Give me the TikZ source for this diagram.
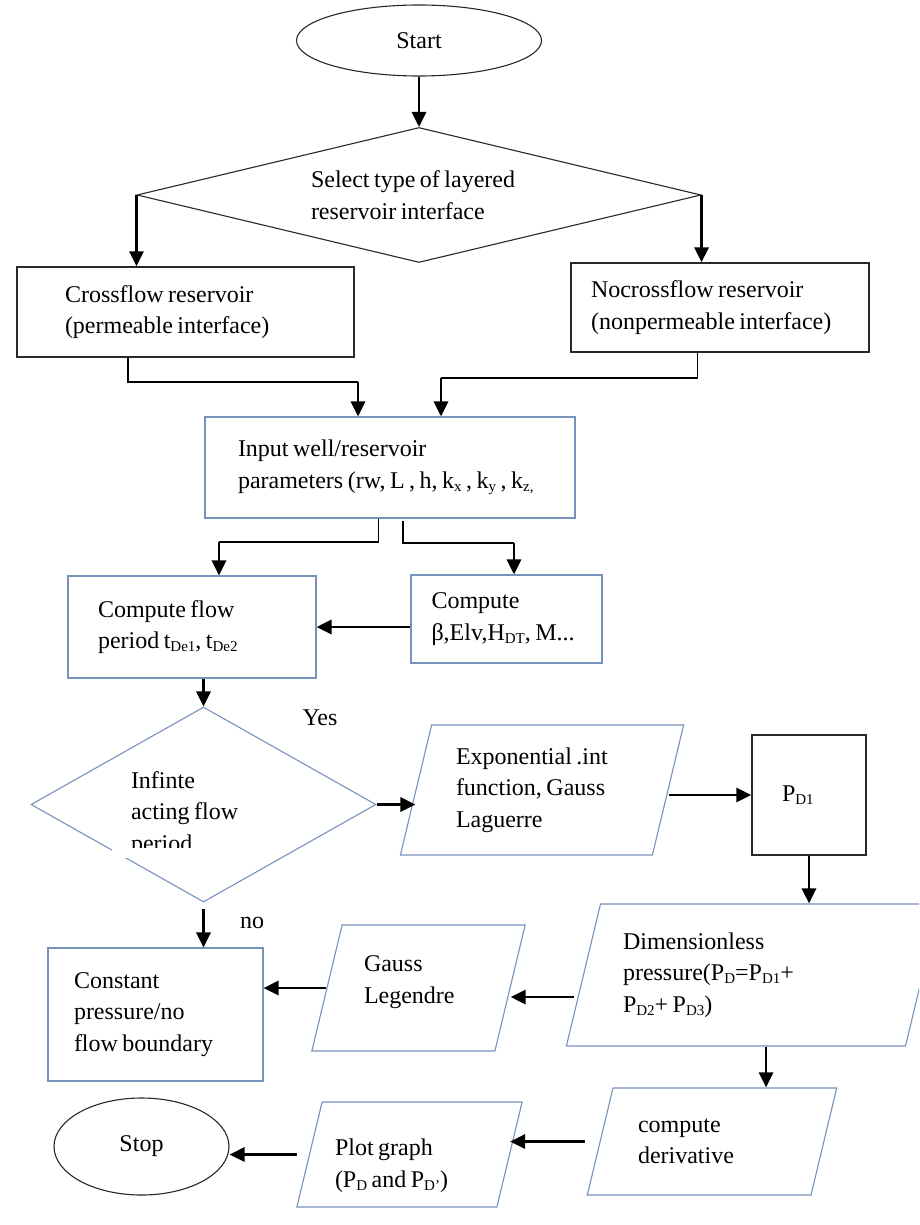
\documentclass[tikz,border=0pt]{standalone}
\usepackage{fontspec}
\setmainfont{Liberation Serif}
\usepackage{tikz}
\usetikzlibrary{shapes.geometric,arrows.meta,calc}
\definecolor{boxblue}{RGB}{118,146,188}
\definecolor{boxdark}{RGB}{40,40,40}
\newcommand{\nodefont}{\fontsize{24}{31.5}\selectfont}
\newcommand{\tightspace}{\spaceskip=4.5pt plus 2pt minus 1pt\relax}
\newcommand{\iotext}[4][0pt]{\parbox[c][#2][c]{#3}{\raggedright\tightspace\vspace*{#1}#4}}
\newcommand{\lowtext}[1]{\raisebox{-3pt}{\fontsize{15}{15}\selectfont #1}}

\begin{document}
\begin{tikzpicture}
        [
            x=1pt, y=-1pt,
            every node/.style={font=\nodefont, inner sep=0pt, execute at begin node=\tightspace},
            darkbox/.style={draw=boxdark, line width=1.4pt, align=left},
            bluebox/.style={draw=boxblue, line width=1.1pt, align=left},
            iobox/.style={draw=boxblue, line width=1.1pt, trapezium, trapezium left angle=76.5,
                trapezium right angle=103.5, inner ysep=0pt},
            flowarrow/.style={line width=2.9pt, -{Triangle[length=15pt,width=14pt]}},
            joinline/.style={line width=1.1pt}
        ]
        \useasboundingbox (0,0) rectangle (919,1225);
        \clip (0,0) rectangle (919,1225);

        \node[ellipse, draw=boxdark, line width=1.1pt, minimum width=245pt, minimum height=71pt] (start) at (419,40.5) {Start};
        \node[diamond, draw=boxdark, line width=1.1pt, aspect=4.2, minimum width=564pt, minimum height=135pt,
            text width=216pt, align=left] (select) at (419,195) {Select type of layered\\reservoir  interface};

        \node[darkbox, minimum width=337pt, minimum height=90pt, text width=241pt] (cross) at (185.5,312)
            {Crossflow reservoir\\(permeable interface)};
        \node[darkbox, minimum width=298pt, minimum height=89pt, text width=258pt] (nocross) at (720,307.5)
            {Nocrossflow reservoir\\(nonpermeable interface)};
        \node[bluebox, minimum width=370pt, minimum height=101pt, text width=304pt] (input) at (390,467.5)
            {Input well/reservoir\\\mbox{parameters (rw, L , h,  k\lowtext{x} , k\lowtext{y} , k\lowtext{z,}}};
        \node[bluebox, minimum width=248pt, minimum height=102pt, text width=188pt] (flow) at (192,627)
            {Compute flow\\period t\lowtext{De1}, t\lowtext{De2}};
        \node[bluebox, minimum width=191pt, minimum height=88pt, text width=150pt] (comp) at (506.5,619)
            {Compute\\β,Elv,H\lowtext{DT}, M...};

        \node[diamond, draw=boxblue, line width=1.1pt, minimum width=345pt, minimum height=195pt] (infinite) at (203.5,804.5) {};
        \fill[white] (112,762) rectangle (272,858);
        \begin{scope}
        \clip (100,760) rectangle (290,847);
        \node[text width=146pt, align=left] (infinitetext) at (204,814) {Infinte\\acting flow\\period};
        \end{scope}

        \node[iobox, inner xsep=24.4pt] (expint) at (542,790)
            {\iotext{130pt}{172pt}{Exponential .int\\function, Gauss\\Laguerre}};
        \node[darkbox, minimum width=114pt, minimum height=120pt, text width=54pt] (pd) at (809,795) {P\lowtext{D1}};
        \node[iobox, inner xsep=22.5pt] (dimless) at (753,975)
            {\iotext{142pt}{260pt}{Dimensionless\\pressure(P\lowtext{D}=P\lowtext{D1}+\\P\lowtext{D2}+ P\lowtext{D3})}};
        \node[iobox, inner xsep=21.9pt] (gauss) at (418.5,988) {\iotext[-12pt]{126pt}{109pt}{Gauss\\Legendre}};
        \node[bluebox, minimum width=215pt, minimum height=133pt, text width=163pt] (const) at (155.5,1014.5)
            {Constant\\pressure/no\\flow boundary};
        \node[iobox, inner xsep=25pt] (deriv) at (712,1141.5) {\iotext{107pt}{148pt}{compute\\derivative}};
        \node[iobox, inner xsep=12.9pt] (plot) at (409.5,1154.5)
            {\iotext[22pt]{105pt}{149pt}{Plot graph\\(P\lowtext{D} and P\lowtext{D'})}};
        \node[ellipse, draw=boxdark, line width=1.1pt, minimum width=175pt, minimum height=97pt] (stop) at (141.5,1146.5) {Stop};

        \node (yes) at (320,718) {Yes};
        \node (no) at (252,923) {no};

        \coordinate (crossturn) at (358,382);
        \coordinate (nocrossturn) at (441,378);
        \coordinate (flowturn) at (219,542);
        \coordinate (compturn) at (514,543);

        \draw[flowarrow] (start.south) -- (select.north);
        \draw[flowarrow] (select.west) -- (select.west |- cross.north);
        \draw[flowarrow] (select.east) -- (select.east |- nocross.north);

        \draw[joinline] ($(cross.south west)!0.33!(cross.south east)$) |- (crossturn);
        \draw[flowarrow] (crossturn) -- (crossturn |- input.north);
        \draw[joinline] ($(nocross.south west)!0.426!(nocross.south east)$) |- (nocrossturn);
        \draw[flowarrow] (nocrossturn) -- (nocrossturn |- input.north);

        \draw[joinline] ($(input.south west)!0.47!(input.south east)$) |- (flowturn);
        \draw[flowarrow] (flowturn) -- (flowturn |- flow.north);
        \draw[joinline] ($(input.south west)!0.535!(input.south east)+(0,2)$) |- (compturn);
        \draw[flowarrow] (compturn) -- (compturn |- comp.north);

        \draw[flowarrow] (comp.west |- flow.east) -- (flow.east);
        \draw[flowarrow] (infinite.north |- flow.south) -- (infinite.north);
        \draw[flowarrow] (infinite.east) -- (infinite.east -| expint.west);
        \draw[flowarrow] (pd.west -| expint.east) -- (pd.west);
        \draw[flowarrow] (pd.south) -- (pd.south |- dimless.north);
        \draw[flowarrow] ([xshift=-9pt,yshift=-22pt]dimless.west) -- ([yshift=-22pt]dimless.west -| gauss.east);
        \draw[flowarrow] (gauss.west) -- (gauss.west -| const.east);
        \draw[flowarrow] ([yshift=-6pt]infinite.south) -- (infinite.south |- const.north);
        \draw[flowarrow] ([xshift=13pt]dimless.south) -- ([xshift=13pt]dimless.south |- deriv.north);
        \draw[flowarrow] ([xshift=-15pt]deriv.west) -- (deriv.west -| plot.east);
        \draw[flowarrow] ([xshift=-12pt]plot.west) -- (plot.west -| stop.east);

\end{tikzpicture}
\end{document}
